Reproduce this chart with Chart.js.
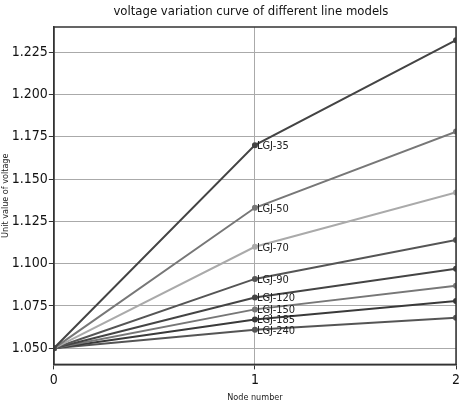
<!DOCTYPE html>
<html><head><meta charset="utf-8">
<script src="https://cdn.jsdelivr.net/npm/chart.js@4/dist/chart.umd.min.js"></script>
<style>html,body{margin:0;padding:0;background:#fff}#wrap{width:473px;height:410px}</style>
</head><body><div id="wrap"><canvas id="c" width="473" height="410"></canvas></div>
<script>
const nodes = [0, 1, 2];
const seriesNames = ["LGJ-35","LGJ-50","LGJ-70","LGJ-90","LGJ-120","LGJ-150","LGJ-185","LGJ-240"];
const v35  = [1.050, 1.170, 1.232];
const v50  = [1.050, 1.133, 1.178];
const v70  = [1.050, 1.110, 1.142];
const v90  = [1.050, 1.091, 1.114];
const v120 = [1.050, 1.080, 1.097];
const v150 = [1.050, 1.073, 1.087];
const v185 = [1.050, 1.067, 1.078];
const v240 = [1.050, 1.061, 1.068];
const yTicks = [1.050, 1.075, 1.100, 1.125, 1.150, 1.175, 1.200, 1.225];
const xTicks = [0, 1, 2];
const titleText = 'voltage variation curve of different line models';
const colors = ["#444444","#777777","#aaaaaa","#555555","#444444","#777777","#3a3a3a","#555555"];
const allValues = [v35, v50, v70, v90, v120, v150, v185, v240];

const FONT = "'DejaVu Sans Condensed','DejaVu Sans',sans-serif";

const datasets = allValues.map((vals, i) => ({
  label: seriesNames[i],
  data: nodes.map((n, j) => ({x: n, y: vals[j]})),
  borderColor: colors[i],
  backgroundColor: colors[i],
  borderWidth: 2,
  pointRadius: 2,
  pointHoverRadius: 2,
  tension: 0
}));

const frameAndLabels = {
  id: 'frameAndLabels',
  afterDatasetsDraw(chart) {
    const ctx = chart.ctx, a = chart.chartArea;
    const xs = chart.scales.x, ys = chart.scales.y;
    ctx.save();
    ctx.font = "11px " + FONT;
    ctx.fillStyle = "#222";
    ctx.textBaseline = "middle";
    ctx.textAlign = "left";
    allValues.forEach((vals, i) => {
      ctx.fillText(seriesNames[i], xs.getPixelForValue(nodes[1]) + 2, ys.getPixelForValue(vals[1]) + 1);
    });
    ctx.strokeStyle = "#333";
    ctx.lineWidth = 1.5;
    ctx.strokeRect(a.left, a.top, a.right - a.left, a.bottom - a.top);
    ctx.font = "13px " + FONT;
    ctx.fillStyle = "#111";
    ctx.textAlign = "center";
    ctx.fillText(titleText, (a.left + a.right) / 2 - 4, 12);
    ctx.restore();
  }
};

new Chart(document.getElementById('c'), {
  type: 'line',
  data: { datasets },
  options: {
    responsive: false,
    animation: false,
    devicePixelRatio: 1,
    layout: { padding: { left: 0, right: 17, top: 27, bottom: 7 } },
    plugins: {
      legend: { display: false },
      tooltip: { enabled: false },
      title: { display: false }
    },
    scales: {
      x: {
        type: 'linear',
        min: 0, max: 2,
        afterBuildTicks(s) { s.ticks = xTicks.map(v => ({value: v})); },
        ticks: { color: '#111', font: { family: FONT, size: 14 }, padding: 3, callback: v => String(v) },
        grid: { color: '#aaaaaa', lineWidth: 1, tickColor: '#333', tickLength: 5 },
        border: { color: '#333', width: 1.5 },
        title: { display: true, text: 'Node number', color: '#222', font: { family: FONT, size: 9 }, padding: { top: 0, bottom: 0 } }
      },
      y: {
        min: 1.0405, max: 1.2398,
        afterBuildTicks(s) { s.ticks = yTicks.map(v => ({value: v})); },
        ticks: { color: '#111', font: { family: FONT, size: 14 }, padding: 1, callback: v => v.toFixed(3) },
        grid: { color: '#aaaaaa', lineWidth: 1, tickColor: '#333', tickLength: 5 },
        border: { color: '#333', width: 1.5 },
        title: { display: true, text: 'Unit value of voltage', color: '#222', font: { family: FONT, size: 9 }, padding: { top: 0, bottom: 0 } }
      }
    }
  },
  plugins: [frameAndLabels]
});
</script></body></html>
